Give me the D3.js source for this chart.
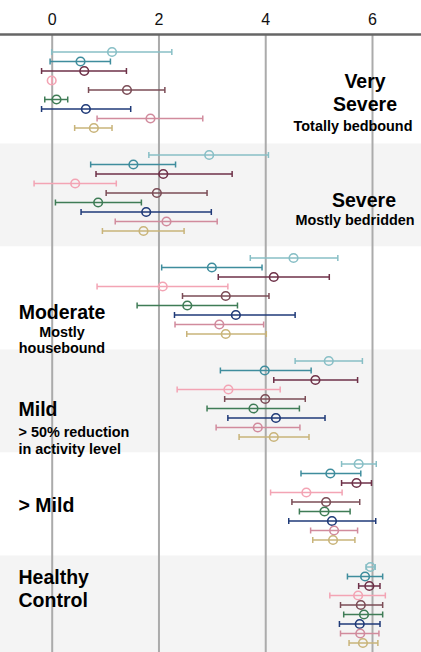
<!DOCTYPE html>
<html>
<head>
<meta charset="utf-8">
<script src="https://cdn.jsdelivr.net/npm/d3@7"></script>
<style>
  body { margin: 0; background: #fff; }
  svg { display: block; font-family: "Liberation Sans", Arial, sans-serif; }
</style>
</head>
<body>
<div id="main"></div>
<script>
// data: one array per severity group, 9 series in fixed order
const groups = ['Very Severe', 'Severe', 'Moderate', 'Mild', '> Mild', 'Healthy Control'];
const seriesColors = ['#88bfc6', '#3f8d9d', '#6e3148', '#f3a4b4', '#7b4c56', '#3f7c56', '#1f3a78', '#d18b9d', '#c9b47a'];
const tickValues = [0, 2, 4, 6];

const means = [
    [1.13, 0.54, 0.61, 0.00, 1.41, 0.09, 0.64, 1.85, 0.79],
    [2.95, 1.53, 2.09, 0.44, 1.97, 0.87, 1.77, 2.15, 1.72],
    [4.53, 3.00, 4.16, 2.08, 3.26, 2.54, 3.45, 3.14, 3.26],
    [5.19, 3.99, 4.94, 3.31, 4.00, 3.78, 4.20, 3.86, 4.16],
    [5.75, 5.22, 5.71, 4.77, 5.14, 5.11, 5.25, 5.29, 5.27],
    [5.97, 5.87, 5.95, 5.74, 5.79, 5.85, 5.77, 5.78, 5.83]
];
const lows = [
    [0.00, -0.03, -0.19, 0.00, 0.69, -0.13, -0.19, 0.85, 0.43],
    [1.82, 0.73, 0.83, -0.33, 1.02, 0.07, 0.55, 1.19, 0.95],
    [3.72, 2.06, 3.12, 0.85, 2.45, 1.60, 2.30, 2.31, 2.53],
    [4.56, 3.16, 4.16, 2.35, 3.24, 2.91, 3.30, 3.08, 3.51],
    [5.43, 4.67, 5.43, 4.10, 4.50, 4.64, 4.44, 4.85, 4.89],
    [5.89, 5.54, 5.75, 5.21, 5.41, 5.47, 5.39, 5.41, 5.57]
];
const highs = [
    [2.25, 1.10, 1.40, 0.00, 2.12, 0.30, 1.48, 2.83, 1.13],
    [4.06, 2.32, 3.38, 1.21, 2.91, 1.68, 2.99, 3.10, 2.48],
    [5.36, 3.94, 5.20, 3.30, 4.07, 3.48, 4.56, 3.97, 4.02],
    [5.82, 4.86, 5.73, 4.28, 4.75, 4.64, 5.12, 4.65, 4.82],
    [6.08, 5.79, 5.99, 5.44, 5.77, 5.59, 6.07, 5.73, 5.68],
    [6.06, 6.20, 6.15, 6.25, 6.20, 6.20, 6.15, 6.13, 6.11]
];

// label lines per group: [text, big?]
const groupLabels = [
    [['Very', true], ['Severe', true], ['Totally bedbound', false]],
    [['Severe', true], ['Mostly bedridden', false]],
    [['Moderate', true], ['Mostly', false], ['housebound', false]],
    [['Mild', true], ['> 50% reduction', false], ['in activity level', false]],
    [['> Mild', true]],
    [['Healthy', true], ['Control', true]]
];

// label layout: x, anchor and baselines (relative to band top) for each line
const labelLayout = [
    { x: [365, 365, 353], anchor: 'middle', y: [47.5, 70.5, 90.2] },
    { x: [364, 355], anchor: 'middle', y: [63.2, 81.5] },
    { x: [62, 62, 62], anchor: 'middle', y: [72.5, 90.8, 106.8] },
    { x: [18.5, 18.5, 18.5], anchor: 'start', y: [66.2, 87.2, 104.5] },
    { x: [18.5], anchor: 'start', y: [59.2] },
    { x: [18.5, 18.5], anchor: 'start', y: [28.5, 51.8] }
];

const width = 421, height = 652;
const axisY = 34.5;
const bandTop = 40.5, bandStep = 103;

const svg = d3.select('#main')
    .append('svg')
    .attr('width', width)
    .attr('height', height);

const xScale = d3.scaleLinear()
    .domain([0, 6])
    .range([51.7, 372]);

const yBand = d3.scaleBand()
    .domain(groups)
    .range([bandTop, bandTop + groups.length * bandStep]);

const yRow = d3.scalePoint()
    .domain(d3.range(seriesColors.length))
    .range([11.5, 87.5]);

// alternating band backgrounds
svg.selectAll('rect.band')
    .data(groups)
    .enter()
    .append('rect')
    .attr('class', 'band')
    .attr('x', 0)
    .attr('width', width)
    .attr('y', d => yBand(d))
    .attr('height', yBand.bandwidth())
    .attr('fill', (d, i) => i % 2 === 1 ? '#f4f4f4' : '#ffffff');

// top axis with gridlines running down the chart
const xAxis = svg.append('g')
    .attr('transform', `translate(0, ${axisY})`)
    .call(d3.axisTop(xScale)
        .tickValues(tickValues)
        .tickSize(-(height - axisY))
        .tickPadding(10)
        .tickFormat(d3.format('d')));

xAxis.select('.domain').remove();
xAxis.selectAll('.tick line')
    .attr('stroke', '#ababab')
    .attr('stroke-width', 2);
xAxis.selectAll('.tick text')
    .attr('fill', '#111')
    .style('font-size', '16px');

svg.append('line')
    .attr('x1', 0)
    .attr('x2', width)
    .attr('y1', axisY)
    .attr('y2', axisY)
    .attr('stroke', '#666')
    .attr('stroke-width', 2.6);

// flatten into one record per error bar
const rows = [];
groups.forEach((g, gi) => {
    seriesColors.forEach((c, si) => {
        rows.push({ group: g, series: si, mean: means[gi][si], low: lows[gi][si], high: highs[gi][si] });
    });
});

const rowY = d => yBand(d.group) + yRow(d.series);
const capH = 3;

const bars = svg.append('g')
    .selectAll('g')
    .data(rows)
    .enter()
    .append('g')
    .attr('stroke', d => seriesColors[d.series])
    .attr('stroke-width', 1.5)
    .attr('fill', 'none');

bars.append('line')
    .attr('x1', d => xScale(d.low))
    .attr('x2', d => xScale(d.high))
    .attr('y1', rowY)
    .attr('y2', rowY);

bars.append('line')
    .attr('x1', d => xScale(d.low))
    .attr('x2', d => xScale(d.low))
    .attr('y1', d => rowY(d) - capH)
    .attr('y2', d => rowY(d) + capH);

bars.append('line')
    .attr('x1', d => xScale(d.high))
    .attr('x2', d => xScale(d.high))
    .attr('y1', d => rowY(d) - capH)
    .attr('y2', d => rowY(d) + capH);

bars.append('circle')
    .attr('cx', d => xScale(d.mean))
    .attr('cy', rowY)
    .attr('r', 4.3)
    .attr('stroke-width', 1.6);

// group labels
groups.forEach((g, gi) => {
    const lay = labelLayout[gi];
    svg.append('g')
        .selectAll('text')
        .data(groupLabels[gi])
        .enter()
        .append('text')
        .attr('x', (d, i) => lay.x[i])
        .attr('y', (d, i) => yBand(g) + lay.y[i])
        .attr('text-anchor', lay.anchor)
        .attr('fill', '#000')
        .style('font-weight', 'bold')
        .style('font-size', d => d[1] ? '19.5px' : '14.4px')
        .text(d => d[0]);
});
</script>
</body>
</html>
